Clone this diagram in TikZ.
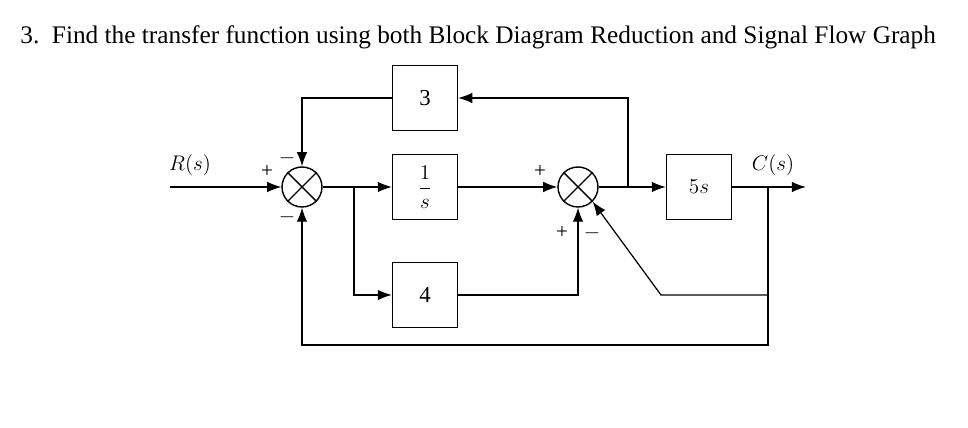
\documentclass[tikz,border=0pt]{standalone}
\usepackage{fontspec}
\setmainfont{Liberation Serif}
\usetikzlibrary{arrows.meta}

\begin{document}
\begin{tikzpicture}[x=0.02cm, y=-0.02cm,
    blk/.style={draw, thick, minimum size=1.3cm, inner sep=0pt, font=\fontsize{13}{15}\selectfont},
    sum/.style={draw, thick, circle, minimum size=0.8cm, inner sep=0pt},
    sig/.style={draw, line width=0.7pt, -{Latex[length=8pt,width=6pt]}},
    lbl/.style={font=\fontsize{12}{14}\selectfont}]
    \useasboundingbox (0,0) rectangle (968,428);
    % title
    \node[anchor=west, inner sep=0pt, font=\fontsize{14.4}{17}\selectfont] (title) at (20,37)
        {3.\ \ Find the transfer function using both Block Diagram Reduction and Signal Flow Graph};
    % blocks and junctions
    \node[sum] (s1) at (302,187) {};
    \node[sum] (s2) at (578,187) {};
    \draw[thick] (s1.north west) -- (s1.south east) (s1.north east) -- (s1.south west);
    \draw[thick] (s2.north west) -- (s2.south east) (s2.north east) -- (s2.south west);
    \node[blk] (g3) at (425,98) {3};
    \node[blk] (g1) at (425,187) {$\displaystyle\frac{1}{s}$};
    \node[blk] (g4) at (425,295) {4};
    \node[blk] (g5) at (699,187) {$5s$};
    % coordinates
    \coordinate (in) at (170,187);
    \coordinate (out) at (806,187);
    \coordinate (b1) at (354,187);
    \coordinate (b2) at (628,187);
    \coordinate (b3) at (768,187);
    % signals
    \path[sig] (in) -- (s1);
    \path[sig] (s1) -- (g1);
    \path[sig] (g1) -- (s2);
    \path[sig] (s2) -- (g5);
    \path[sig] (g5) -- (out);
    \path[sig] (b2) |- (g3);
    \path[sig] (g3) -| (s1);
    \path[sig] (b1) |- (g4);
    \path[sig] (g4) -| (s2);
    \path[sig] (b3) |- (661,295) -- (s2.-45);
    \path[sig] (b3) |- (302,345) -- (s1);
    % labels
    \node[lbl] (lr) at (190,165) {$R(s)$};
    \node[lbl] (lc) at (773,165) {$C(s)$};
    \node[lbl] (p1) at (267,172) {+};
    \node[lbl] (m1) at (287,158) {$-$};
    \node[lbl] (m2) at (287,217) {$-$};
    \node[lbl] (p2) at (540,172) {+};
    \node[lbl] (p3) at (562,233) {+};
    \node[lbl] (m3) at (592,233) {$-$};
\end{tikzpicture}
\end{document}
